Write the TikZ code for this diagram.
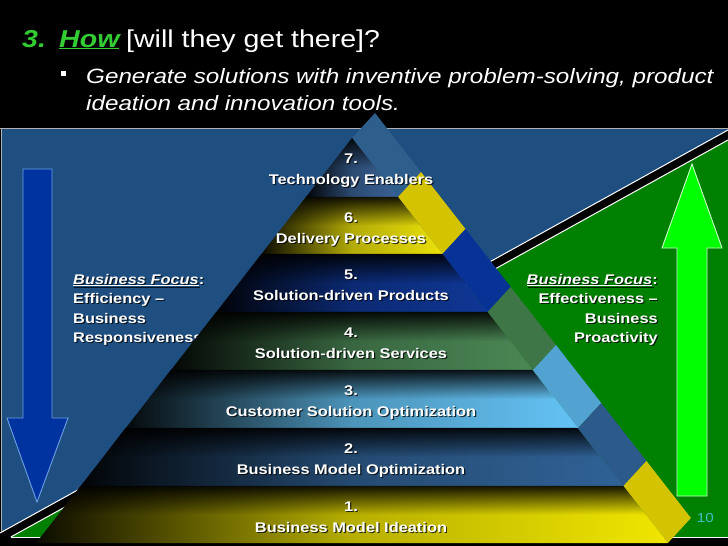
\documentclass[tikz,border=0pt]{standalone}
\usepackage{fontspec}
\setmainfont{Liberation Sans}[FakeStretch=1.17]
\usetikzlibrary{fadings}
\definecolor{panelblue}{RGB}{31,78,128}
\definecolor{panelgreen}{RGB}{0,128,0}
\definecolor{titlegreen}{RGB}{51,204,51}
\definecolor{arrowblue}{RGB}{0,51,160}
\definecolor{arrowblueedge}{RGB}{110,160,230}
\definecolor{arrowgreen}{RGB}{0,255,0}
\definecolor{pagecol}{RGB}{64,192,192}
\definecolor{cLseven}{RGB}{58,98,150}
\definecolor{cLsix}{RGB}{235,225,10}
\definecolor{cLfive}{RGB}{15,55,150}
\definecolor{cLfour}{RGB}{75,135,85}
\definecolor{cLthree}{RGB}{100,195,245}
\definecolor{cLtwo}{RGB}{48,98,150}
\definecolor{cLone}{RGB}{240,230,0}
\definecolor{cSseven}{RGB}{46,94,140}
\definecolor{cSsix}{RGB}{212,195,0}
\definecolor{cSfive}{RGB}{8,50,150}
\definecolor{cSfour}{RGB}{62,118,72}
\definecolor{cSthree}{RGB}{82,162,210}
\definecolor{cStwo}{RGB}{44,90,138}
\definecolor{cSone}{RGB}{212,195,0}
\tikzfading[name=topshade, top color=transparent!10, bottom color=transparent!100, middle color=transparent!100]
\newcommand\pyrlayer[2]{%
  \shade[left color=#1!5!black, right color=#1, middle color=#1!76!black] #2;%
  \fill[black, path fading=topshade] #2;}
\begin{document}
\begin{tikzpicture}[x=1pt,y=-1pt,
  sidetxt/.style={font=\fontsize{14}{16}\selectfont\bfseries, text=white, inner sep=0pt},
  sideshadow/.style={font=\fontsize{14}{16}\selectfont\bfseries, text=black, opacity=0.75, inner sep=0pt},
  pyrtxt/.style={font=\fontsize{14}{16}\selectfont\bfseries, text=white, inner sep=0pt, anchor=base},
  pyrshadow/.style={font=\fontsize{14}{16}\selectfont\bfseries, text=black, opacity=0.75, inner sep=0pt, anchor=base},
  titletxt/.style={anchor=base west, inner sep=0pt},
  bullettxt/.style={anchor=base west, inner sep=0pt, font=\fontsize{20.7}{27}\selectfont\itshape, text=white}]
\fill[black] (0,0) rectangle (728,546);
\useasboundingbox (0,0) rectangle (728,546);

% panel
\fill[panelblue] (2,128) -- (728,128) -- (728,130) -- (2,531.9) -- cycle;
\fill[panelgreen] (728,140) -- (728,537) -- (10.8,537) -- cycle;
\draw[white, line width=1pt] (0,533) -- (728,130);
\draw[white, line width=1pt] (10.8,537) -- (728,140);
\draw[white, line width=0.8pt] (10.8,537) -- (728,537);
\draw[gray!60, line width=1pt] (0,128.5) -- (728,128.5);
\draw[gray!60, line width=1pt] (1.5,128) -- (1.5,532);

% arrows
\draw[fill=arrowblue, draw=arrowblueedge, line width=0.9pt]
  (23,169) -- (52,169) -- (52,418) -- (68,418) -- (37,502) -- (7,418) -- (23,418) -- cycle;
\draw[fill=arrowgreen, draw=green!20!white, line width=0.9pt]
  (692,164) -- (722,248) -- (707,248) -- (707,496) -- (677,496) -- (677,248) -- (662,248) -- cycle;

% side labels
\foreach \t/\y/\n in {{\underline{\itshape Business Focus}:}/284/1, {Efficiency --}/303/2, {Business}/323/3, {Responsiveness}/342/4} {
  \node[sideshadow, anchor=base west] (lfs\n) at (74.2,\y+1.2) {\t};
  \node[sidetxt, anchor=base west] (lf\n) at (73,\y) {\t};
}
\foreach \t/\y/\n in {{\underline{\itshape Business Focus}:}/284/1, {Effectiveness --}/303/2, {Business}/323/3, {Proactivity}/342/4} {
  \node[sideshadow, anchor=base east] (rfs\n) at (659.2,\y+1.2) {\t};
  \node[sidetxt, anchor=base east] (rf\n) at (658,\y) {\t};
}

% pyramid side face
\fill[cSseven] (375,113) -- (352,138) -- (398,197) -- (421,172) -- cycle;
\fill[cSsix] (398,197) -- (442.5,254) -- (465.5,229) -- (421,172) -- cycle;
\fill[cSfive] (442.5,254) -- (487.7,312) -- (510.7,287) -- (465.5,229) -- cycle;
\fill[cSfour] (487.7,312) -- (533,370) -- (556,345) -- (510.7,287) -- cycle;
\fill[cSthree] (533,370) -- (578.2,428) -- (601.2,403) -- (556,345) -- cycle;
\fill[cStwo] (578.2,428) -- (623.4,486) -- (646.4,461) -- (601.2,403) -- cycle;
\fill[cSone] (623.4,486) -- (667.9,543) -- (690.9,518) -- (646.4,461) -- cycle;

% pyramid front layers
\pyrlayer{cLseven}{(352,138) -- (398,197) -- (306,197) -- cycle}
\pyrlayer{cLsix}{(306,197) -- (398,197) -- (442.5,254) -- (261.5,254) -- cycle}
\pyrlayer{cLfive}{(261.5,254) -- (442.5,254) -- (487.7,312) -- (216.3,312) -- cycle}
\pyrlayer{cLfour}{(216.3,312) -- (487.7,312) -- (533,370) -- (171,370) -- cycle}
\pyrlayer{cLthree}{(171,370) -- (533,370) -- (578.2,428) -- (125.8,428) -- cycle}
\pyrlayer{cLtwo}{(125.8,428) -- (578.2,428) -- (623.4,486) -- (80.6,486) -- cycle}
\pyrlayer{cLone}{(80.6,486) -- (623.4,486) -- (667.9,543) -- (36.1,543) -- cycle}

% layer labels
\foreach \k/\nm/\yt in {7/Technology Enablers/138, 6/Delivery Processes/197, 5/Solution-driven Products/254, 4/Solution-driven Services/312, 3/Customer Solution Optimization/370, 2/Business Model Optimization/428, 1/Business Model Ideation/486} {
  \node[pyrshadow] (ns\k) at (352.2,\yt+26.2) {\k.};
  \node[pyrtxt] (n\k) at (351,\yt+25) {\k.};
  \node[pyrshadow] (ms\k) at (352.2,\yt+47.2) {\nm};
  \node[pyrtxt] (m\k) at (351,\yt+46) {\nm};
}

% title
\node[titletxt, font=\fontsize{24.4}{28}\selectfont\bfseries\itshape, text=titlegreen] (t1) at (22,47) {3.};
\node[titletxt, font=\fontsize{24.4}{28}\selectfont\bfseries\itshape, text=titlegreen] (t2) at (59,47) {\underline{How}};
\node[titletxt, font=\fontsize{24.4}{28}\selectfont, text=white] (t3) at (126,47) {[will they get there]?};
\fill[white] (61,71) rectangle (66,76);
\node[bullettxt] (b1) at (86,83) {Generate solutions with inventive problem-solving, product};
\node[bullettxt] (b2) at (86,110) {ideation and innovation tools.};

% page number
\node[anchor=base east, inner sep=0pt, font=\fontsize{13}{15}\selectfont, text=pagecol] (pg) at (714,522) {10};
\end{tikzpicture}
\end{document}
